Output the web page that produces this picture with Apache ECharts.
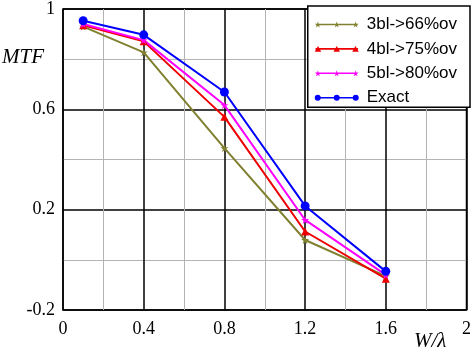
<!DOCTYPE html>
<html>
<head>
<meta charset="utf-8">
<script src="https://cdn.jsdelivr.net/npm/echarts@6/dist/echarts.min.js"></script>
<style>
  html, body { margin: 0; padding: 0; background: #fff; }
  #chart { width: 474px; height: 349px; }
</style>
</head>
<body>
<div id="chart"></div>
<script>
// Normalised width W/λ at which MTF was evaluated
var widths = [0.1, 0.4, 0.8, 1.2, 1.6];

// MTF values for each blending scheme
var mtf3bl = [0.930, 0.827, 0.445, 0.079, -0.065];
var mtf4bl = [0.935, 0.871, 0.570, 0.113, -0.075];
var mtf5bl = [0.940, 0.876, 0.617, 0.159, -0.060];
var mtfExact = [0.953, 0.897, 0.669, 0.215, -0.046];

var seriesNames = ['3bl->66%ov', '4bl->75%ov', '5bl->80%ov', 'Exact'];

// Axis ranges / tick spacing
var xTicks = { min: 0, max: 2, step: 0.4 };
var yTicks = { min: -0.2, max: 1, step: 0.4 };

function pairs(ys) {
  return widths.map(function (x, i) { return [x, ys[i]]; });
}

var star = 'path://M50,0 L61,35 L98,35 L68,57 L79,91 L50,70 L21,91 L32,57 L2,35 L39,35 Z';
var serif = '"Liberation Serif", "DejaVu Serif", serif';
var sans = '"Liberation Sans", Arial, sans-serif';

// Legend swatches: a short line with three markers on it (44 x 6 units)
function f(n) { return (Math.round(n * 100) / 100).toString(); }
var markerX = [3, 22, 41];
var lineBar = 'M0.5,2.2 L43.5,2.2 L43.5,3.8 L0.5,3.8 Z ';
function starAt(cx) {
  var pts = [[50,0],[61,35],[98,35],[68,57],[79,91],[50,70],[21,91],[32,57],[2,35],[39,35]];
  return pts.map(function (p, i) {
    return (i ? 'L' : 'M') + f(cx + (p[0] - 50) * 0.066) + ',' + f(p[1] * 0.066);
  }).join(' ') + ' Z ';
}
function triAt(cx) {
  return 'M' + f(cx) + ',0 L' + f(cx + 3.3) + ',6 L' + f(cx - 3.3) + ',6 Z ';
}
function dotAt(cx) {
  return 'M' + f(cx - 3) + ',3 A3,3 0 1,1 ' + f(cx + 3) + ',3 A3,3 0 1,1 ' + f(cx - 3) + ',3 Z ';
}
function swatch(markFn) {
  return 'path://' + lineBar + markerX.map(markFn).join('');
}

function makeSeries(name, ys, color, symbol, size) {
  return {
    name: name,
    type: 'line',
    data: pairs(ys),
    symbol: symbol,
    symbolSize: size,
    showSymbol: true,
    lineStyle: { color: color, width: 2 },
    itemStyle: { color: color, borderWidth: 0 },
    emphasis: { disabled: true },
    animation: false
  };
}

function axisCommon(range) {
  return {
    type: 'value',
    min: range.min,
    max: range.max,
    interval: range.step,
    axisLine: { show: false },
    axisTick: { show: false },
    minorTick: { show: false, splitNumber: 2 },
    splitLine: { show: true, lineStyle: { color: '#000', width: 1.5 } },
    minorSplitLine: { show: true, lineStyle: { color: '#b4b4b4', width: 1 } },
    axisLabel: {
      color: '#000',
      fontFamily: serif,
      fontSize: 18,
      formatter: function (v) { return String(+v.toFixed(2)); }
    }
  };
}

var xAxis = axisCommon(xTicks);
xAxis.axisLabel.margin = 10;
var yAxis = axisCommon(yTicks);
yAxis.axisLabel.margin = 8;

var icons = [swatch(starAt), swatch(triAt), swatch(starAt), swatch(dotAt)];

var chart = echarts.init(document.getElementById('chart'), null, { renderer: 'canvas' });
chart.setOption({
  backgroundColor: '#fff',
  animation: false,
  grid: {
    left: 63, top: 6, right: 4, bottom: 39,
    show: true, borderColor: '#000', borderWidth: 1.5, backgroundColor: 'transparent'
  },
  xAxis: xAxis,
  yAxis: yAxis,
  legend: {
    data: seriesNames.map(function (n, i) { return { name: n, icon: icons[i] }; }),
    orient: 'vertical',
    right: 4,
    top: 6,
    width: 162,
    backgroundColor: '#fff',
    borderColor: '#000',
    borderWidth: 1.5,
    borderRadius: 0,
    padding: [10, 13, 1, 7],
    itemWidth: 44,
    itemHeight: 6,
    itemGap: 7.4,
    textStyle: { color: '#000', fontFamily: sans, fontSize: 17, padding: [0, 0, 0, 3] }
  },
  graphic: [
    {
      type: 'text', left: 2, top: 47,
      style: { text: 'MTF', font: 'italic 21px ' + serif, fill: '#000' }
    },
    {
      type: 'text', left: 414, top: 331,
      style: { text: 'W/λ', font: 'italic 21px ' + serif, fill: '#000' }
    }
  ],
  series: [
    makeSeries(seriesNames[0], mtf3bl, '#808030', star, 8),
    makeSeries(seriesNames[1], mtf4bl, '#ee0000', 'triangle', 8),
    makeSeries(seriesNames[2], mtf5bl, '#ff00ff', star, 8),
    makeSeries(seriesNames[3], mtfExact, '#0000ff', 'circle', 9)
  ]
});
</script>
</body>
</html>
